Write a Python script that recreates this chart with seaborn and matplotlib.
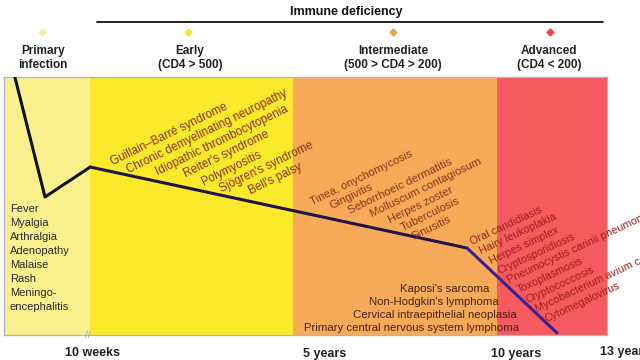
import matplotlib
matplotlib.use("Agg")
import matplotlib.pyplot as plt
from matplotlib.lines import Line2D
import seaborn as sns
import pandas as pd
import numpy as np

# course of the disease: position along the timeline (0-100 across the panel)
# and relative CD4 level (0-100, no scale shown in the original)
course_x = [1.8, 6.8, 14.3, 76.8, 91.7]
course_y = [100, 53.5, 65.1, 33.7, 0.8]
course_part = ["a", "a", "a", "b", "c"]

phase_edges = [0, 14.3, 47.9, 81.8, 100]
phase_colors = ["#fbf08e", "#fbe92c", "#f7aa58", "#f45a5e"]

stage_labels = ["Primary\ninfection", "Early\n(CD4 > 500)",
                "Intermediate\n(500 > CD4 > 200)", "Advanced\n(CD4 < 200)"]
stage_dot_colors = ["#f7f0a0", "#f2e23a", "#f0a048", "#e84848"]

tick_pos = [14.6, 53.2, 84.9, 103.0]
tick_labels = ["10 weeks", "5 years", "10 years", "13 years"]

primary_symptoms = ["Fever", "Myalgia", "Arthralgia", "Adenopathy", "Malaise",
                    "Rash", "Meningo-", "encephalitis"]
early_conditions = ["Guillain–Barré syndrome", "Chronic demyelinating neuropathy",
                    "Idiopathic thrombocytopenia", "Reiter's syndrome", "Polymyositis",
                    "Sjögren's syndrome", "Bell's palsy"]
intermediate_conditions = ["Tinea, onychomycosis", "Gingivitis", "Seborrhoeic dermatitis",
                           "Molluscum contagiosum", "Herpes zoster", "Tuberculosis", "Sinusitis"]
advanced_conditions = ["Oral candidiasis", "Hairy leukoplakia", "Herpes simplex",
                       "Cryptosporidiosis", "Pneumocystis carinii pneumonia", "Toxoplasmosis",
                       "Cryptococcosis", "Mycobacterium avium complex", "Cytomegalovirus"]
malignancies = ["Kaposi's sarcoma", "Non-Hodgkin's lymphoma",
                "Cervical intraepithelial neoplasia", "Primary central nervous system lymphoma"]

W, H = 640, 360
AX_L, AX_R, AX_T, AX_B = 4, 607, 77, 335


def px(x, y):
    # pixel position in the picture -> data coordinates of the panel
    return (x - AX_L) / (AX_R - AX_L) * 100, (AX_B - y) / (AX_B - AX_T) * 100


sns.set_theme(style="white")
plt.rcParams["font.family"] = ["Liberation Sans", "DejaVu Sans"]

fig = plt.figure(figsize=(6.4, 3.6), dpi=100)
ax = fig.add_axes([AX_L / W, 1 - AX_B / H, (AX_R - AX_L) / W, (AX_B - AX_T) / H])
ax.set_xlim(0, 100)
ax.set_ylim(0, 100)

for i, c in enumerate(phase_colors):
    ax.axvspan(phase_edges[i], phase_edges[i + 1], color=c, lw=0, zorder=0)

# line, junction points repeated so that each part joins the next
rows = []
for part in ["a", "b", "c"]:
    idx = [i for i, p in enumerate(course_part) if p == part]
    if part != "a":
        idx = [idx[0] - 1] + idx
    for i in idx:
        rows.append({"x": course_x[i], "y": course_y[i], "part": part})
line_df = pd.DataFrame(rows)
sns.lineplot(data=line_df, x="x", y="y", hue="part", sort=False, estimator=None,
             palette=["#101010", "#1d1548", "#3a1f96"], linewidth=2.2, legend=False,
             ax=ax, zorder=3)

for s in ax.spines.values():
    s.set_color("#a8b4d0")
    s.set_linewidth(0.9)
ax.set_yticks([])
ax.set_xticks(tick_pos[:3])
ax.set_xticklabels(tick_labels[:3], fontsize=9, fontweight="bold", color="#222222")
ax.tick_params(axis="x", length=0, pad=9)
ax.text(tick_pos[3], -0.066, tick_labels[3], transform=ax.get_xaxis_transform(),
        ha="center", va="center", fontsize=9, fontweight="bold", color="#222222",
        clip_on=False)
ax.set_xlabel("")
ax.set_ylabel("")
ax.text(phase_edges[1] - 0.4, 0, "//", ha="center", va="center", fontsize=7.5,
        color="#9aa8c8", clip_on=False)

# header
fig.text(346 / W, 1 - 12 / H, "Immune deficiency", ha="center", va="center",
         fontsize=9, fontweight="bold", color="#111111")
fig.add_artist(Line2D([97 / W, 603 / W], [1 - 22 / H, 1 - 22 / H],
                      transform=fig.transFigure, color="#111111", lw=1.3))
stage_x = [43, 190, 393, 549]
dot_x = [42, 188, 393, 550]
for lab, sx, dx, dc in zip(stage_labels, stage_x, dot_x, stage_dot_colors):
    fig.text(sx / W, 1 - 58 / H, lab, ha="center", va="center", fontsize=8.5,
             fontweight="bold", color="#222222", linespacing=1.3)
    fig.add_artist(Line2D([dx / W], [1 - 32 / H], transform=fig.transFigure,
                          marker="D", markersize=3.5, color=dc, lw=0))

# primary infection symptoms
for i, name in enumerate(primary_symptoms):
    x, y = px(10, 209 + 14 * i)
    ax.text(x, y, name, ha="left", va="center", fontsize=8, color="#2a2a2a")


def slanted(names, start, spacing, indents, rot, color, size):
    # slanted block: each line one spacing below the last, shifted along the text
    a = np.radians(rot)
    along = np.array([np.cos(a), -np.sin(a)])
    down = np.array([np.sin(a), np.cos(a)])
    for i, name in enumerate(names):
        p = np.array(start) + i * spacing * down + indents[i] * along
        x, y = px(*p)
        ax.text(x, y, name, ha="left", va="baseline", rotation=rot,
                rotation_mode="anchor", fontsize=size, color=color, clip_on=False,
                zorder=4)


slanted(early_conditions, (113, 165), 14.5, [0, 10, 36, 60, 73, 86, 111], 26,
        "#8a3418", 8.4)
slanted(intermediate_conditions, (312, 205), 12.6, [0, 16, 30, 49, 62, 70, 76], 26,
        "#93321a", 8.2)
slanted(advanced_conditions, (472, 245), 12.7, [4.4 * i for i in range(9)], 25,
        "#a02018", 7.8)

for i, (name, cx) in enumerate(zip(malignancies, [445, 434, 435, 412])):
    x, y = px(cx, 292 + 13 * i)
    ax.text(x, y, name, ha="center", va="baseline", fontsize=8.2, color="#4a2010",
            zorder=4)

fig.savefig("out.png", dpi=100, facecolor="white")
